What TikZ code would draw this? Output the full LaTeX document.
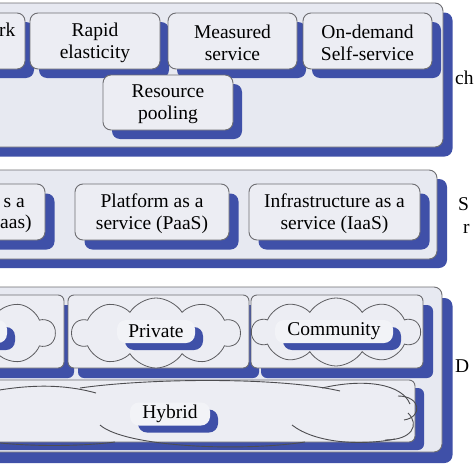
\documentclass[tikz,border=0pt]{standalone}
\usepackage{fontspec}
\setmainfont{Liberation Serif}
\usetikzlibrary{shadows,shapes.symbols}
\definecolor{shblue}{HTML}{3F50A8}
\definecolor{panelfill}{HTML}{E7E9F1}
\definecolor{boxfill}{HTML}{ECEDF3}
\definecolor{lblfill}{HTML}{F2F3F7}
\definecolor{edge}{HTML}{6E6E72}
\tikzset{
  blueshadow/.style 2 args={drop shadow={shadow xshift=#1, shadow yshift=-#2, fill=shblue, opacity=1}},
  txt/.style={font=\fontsize{19.5}{22}\selectfont},
  panel/.style={draw=edge, line width=0.9pt, fill=panelfill, rounded corners=8pt, inner sep=0pt},
  itembox/.style={draw=edge, line width=0.9pt, fill=boxfill, rounded corners=8pt, align=center, inner sep=0pt, txt},
  itemtext/.style={align=center, inner sep=0pt, txt},
  cloudbox/.style={draw=edge, line width=0.9pt, fill=boxfill, rounded corners=6pt, inner sep=0pt},
  cloudshape/.style={cloud, cloud ignores aspect, draw=edge!85!black, line width=0.8pt, fill=boxfill, cloud puffs=#1, cloud puff arc=115, inner sep=0pt},
  cloudline/.style={draw=edge!70!black, line width=0.9pt},
  cloudlbl/.style={fill=lblfill, rounded corners=9pt, inner sep=0pt, txt, blueshadow={8pt}{7pt}},
  sidelbl/.style={txt, inner sep=0pt},
}
\begin{document}
\begin{tikzpicture}[x=1pt,y=-1pt]
\useasboundingbox (0,0) rectangle (474,474);
\clip (0,0) rectangle (474,474);
% panel 1: characteristics
\node[panel, blueshadow={9.5pt}{9.5pt}, minimum width=593pt, minimum height=144pt] (p1) at (146.5,75) {};
\node[itembox, blueshadow={9pt}{9pt}, minimum width=130pt, minimum height=56pt] (bna) at (-40,41) {};
\node[itembox, blueshadow={9pt}{9pt}, minimum width=130pt, minimum height=56pt] (re) at (95,41) {};
\node[itembox, blueshadow={9pt}{9pt}, minimum width=129pt, minimum height=56pt] (ms) at (232.5,41) {};
\node[itembox, blueshadow={9pt}{9pt}, minimum width=129pt, minimum height=56pt] (od) at (367.5,41) {};
\node[itembox, blueshadow={9pt}{9pt}, minimum width=130pt, minimum height=55pt] (rp) at (168,102.5) {};
\node[sidelbl, anchor=base east] (bnat) at (15.5,36) {rk};
\node[itemtext] (ret) at (95,43) {Rapid\\elasticity};
\node[itemtext] (mst) at (232.5,43) {Measured\\service};
\node[itemtext] (odt) at (367.5,43) {On-demand\\Self-service};
\node[itemtext] (rpt) at (168,104.5) {Resource\\pooling};
\node[sidelbl, anchor=base west] (l1) at (455,84) {ch};
% panel 2: service models
\node[panel, blueshadow={10pt}{9pt}, minimum width=587pt, minimum height=89pt] (p2) at (143.5,214.5) {};
\node[itembox, blueshadow={9.5pt}{9.5pt}, minimum width=155pt, minimum height=56pt] (saas) at (-32.5,212) {};
\node[itembox, blueshadow={9.5pt}{9.5pt}, minimum width=154pt, minimum height=56pt] (paas) at (152,212) {};
\node[itembox, blueshadow={9.5pt}{9.5pt}, minimum width=171pt, minimum height=56pt] (iaas) at (334.5,212) {};
\node[sidelbl, anchor=base east] (saast1) at (25,207) {s a};
\node[sidelbl, anchor=base west] (saast2) at (0,228) {aas)};
\node[itemtext] (paast) at (152,214) {Platform as a\\service (PaaS)};
\node[itemtext] (iaast) at (334.5,214) {Infrastructure as a\\service (IaaS)};
\node[sidelbl, anchor=base west] (l2a) at (458,210) {S};
\node[sidelbl, anchor=base west] (l2b) at (463,233) {r};
% panel 3: deployment models
\node[panel, blueshadow={10.5pt}{11pt}, minimum width=592pt, minimum height=165pt] (p3) at (146,369.5) {};
\node[cloudbox, blueshadow={10pt}{10pt}, minimum width=180pt, minimum height=73pt] (pubbox) at (-26,331.5) {};
\node[cloudbox, blueshadow={10pt}{10pt}, minimum width=181pt, minimum height=73pt] (privbox) at (158.5,331.5) {};
\node[cloudbox, blueshadow={10pt}{10pt}, minimum width=172pt, minimum height=73pt] (commbox) at (337,331.5) {};
\node[cloudbox, blueshadow={9pt}{8pt}, minimum width=565pt, minimum height=62pt] (hybbox) at (132.5,411) {};
\node[cloudshape=10, minimum width=166pt, minimum height=70pt] (pubc) at (-28,333) {};
\node[cloudshape=10, minimum width=168pt, minimum height=70pt] (privc) at (156,333) {};
\node[cloudshape=10, minimum width=168pt, minimum height=68pt] (commc) at (336,332) {};
% hybrid cloud drawn as overlapping puffs
\draw[cloudline] (-30,396) .. controls (20,384) and (60,383) .. (96,393);
\draw[cloudline] (80,388) .. controls (150,378) and (280,377) .. (340,391);
\draw[cloudline] (322,388) .. controls (365,378) and (402,384) .. (410,404);
\draw[cloudline] (398,396) .. controls (421,396) and (423,417) .. (404,420);
\draw[cloudline] (408,413) .. controls (420,425) and (412,440) .. (385,440);
\draw[cloudline] (292,425) .. controls (315,443) and (360,446) .. (395,439);
\draw[cloudline] (100,425) .. controls (125,447) and (240,452) .. (305,442);
\draw[cloudline] (115,442) .. controls (70,448) and (0,446) .. (-30,438);
\node[cloudlbl, minimum width=78pt, minimum height=23pt] (publ) at (-32,331.5) {\phantom{Public}};
\node[cloudlbl, minimum width=78pt, minimum height=23pt] (privl) at (156,331.5) {Private};
\node[cloudlbl, minimum width=118pt, minimum height=23pt] (comml) at (334,331.5) {Community};
\node[cloudlbl, minimum width=80pt, minimum height=23pt] (hybl) at (170,414) {Hybrid};
\node[sidelbl, anchor=base west] (l3) at (455,372) {D};
\end{tikzpicture}
\end{document}
